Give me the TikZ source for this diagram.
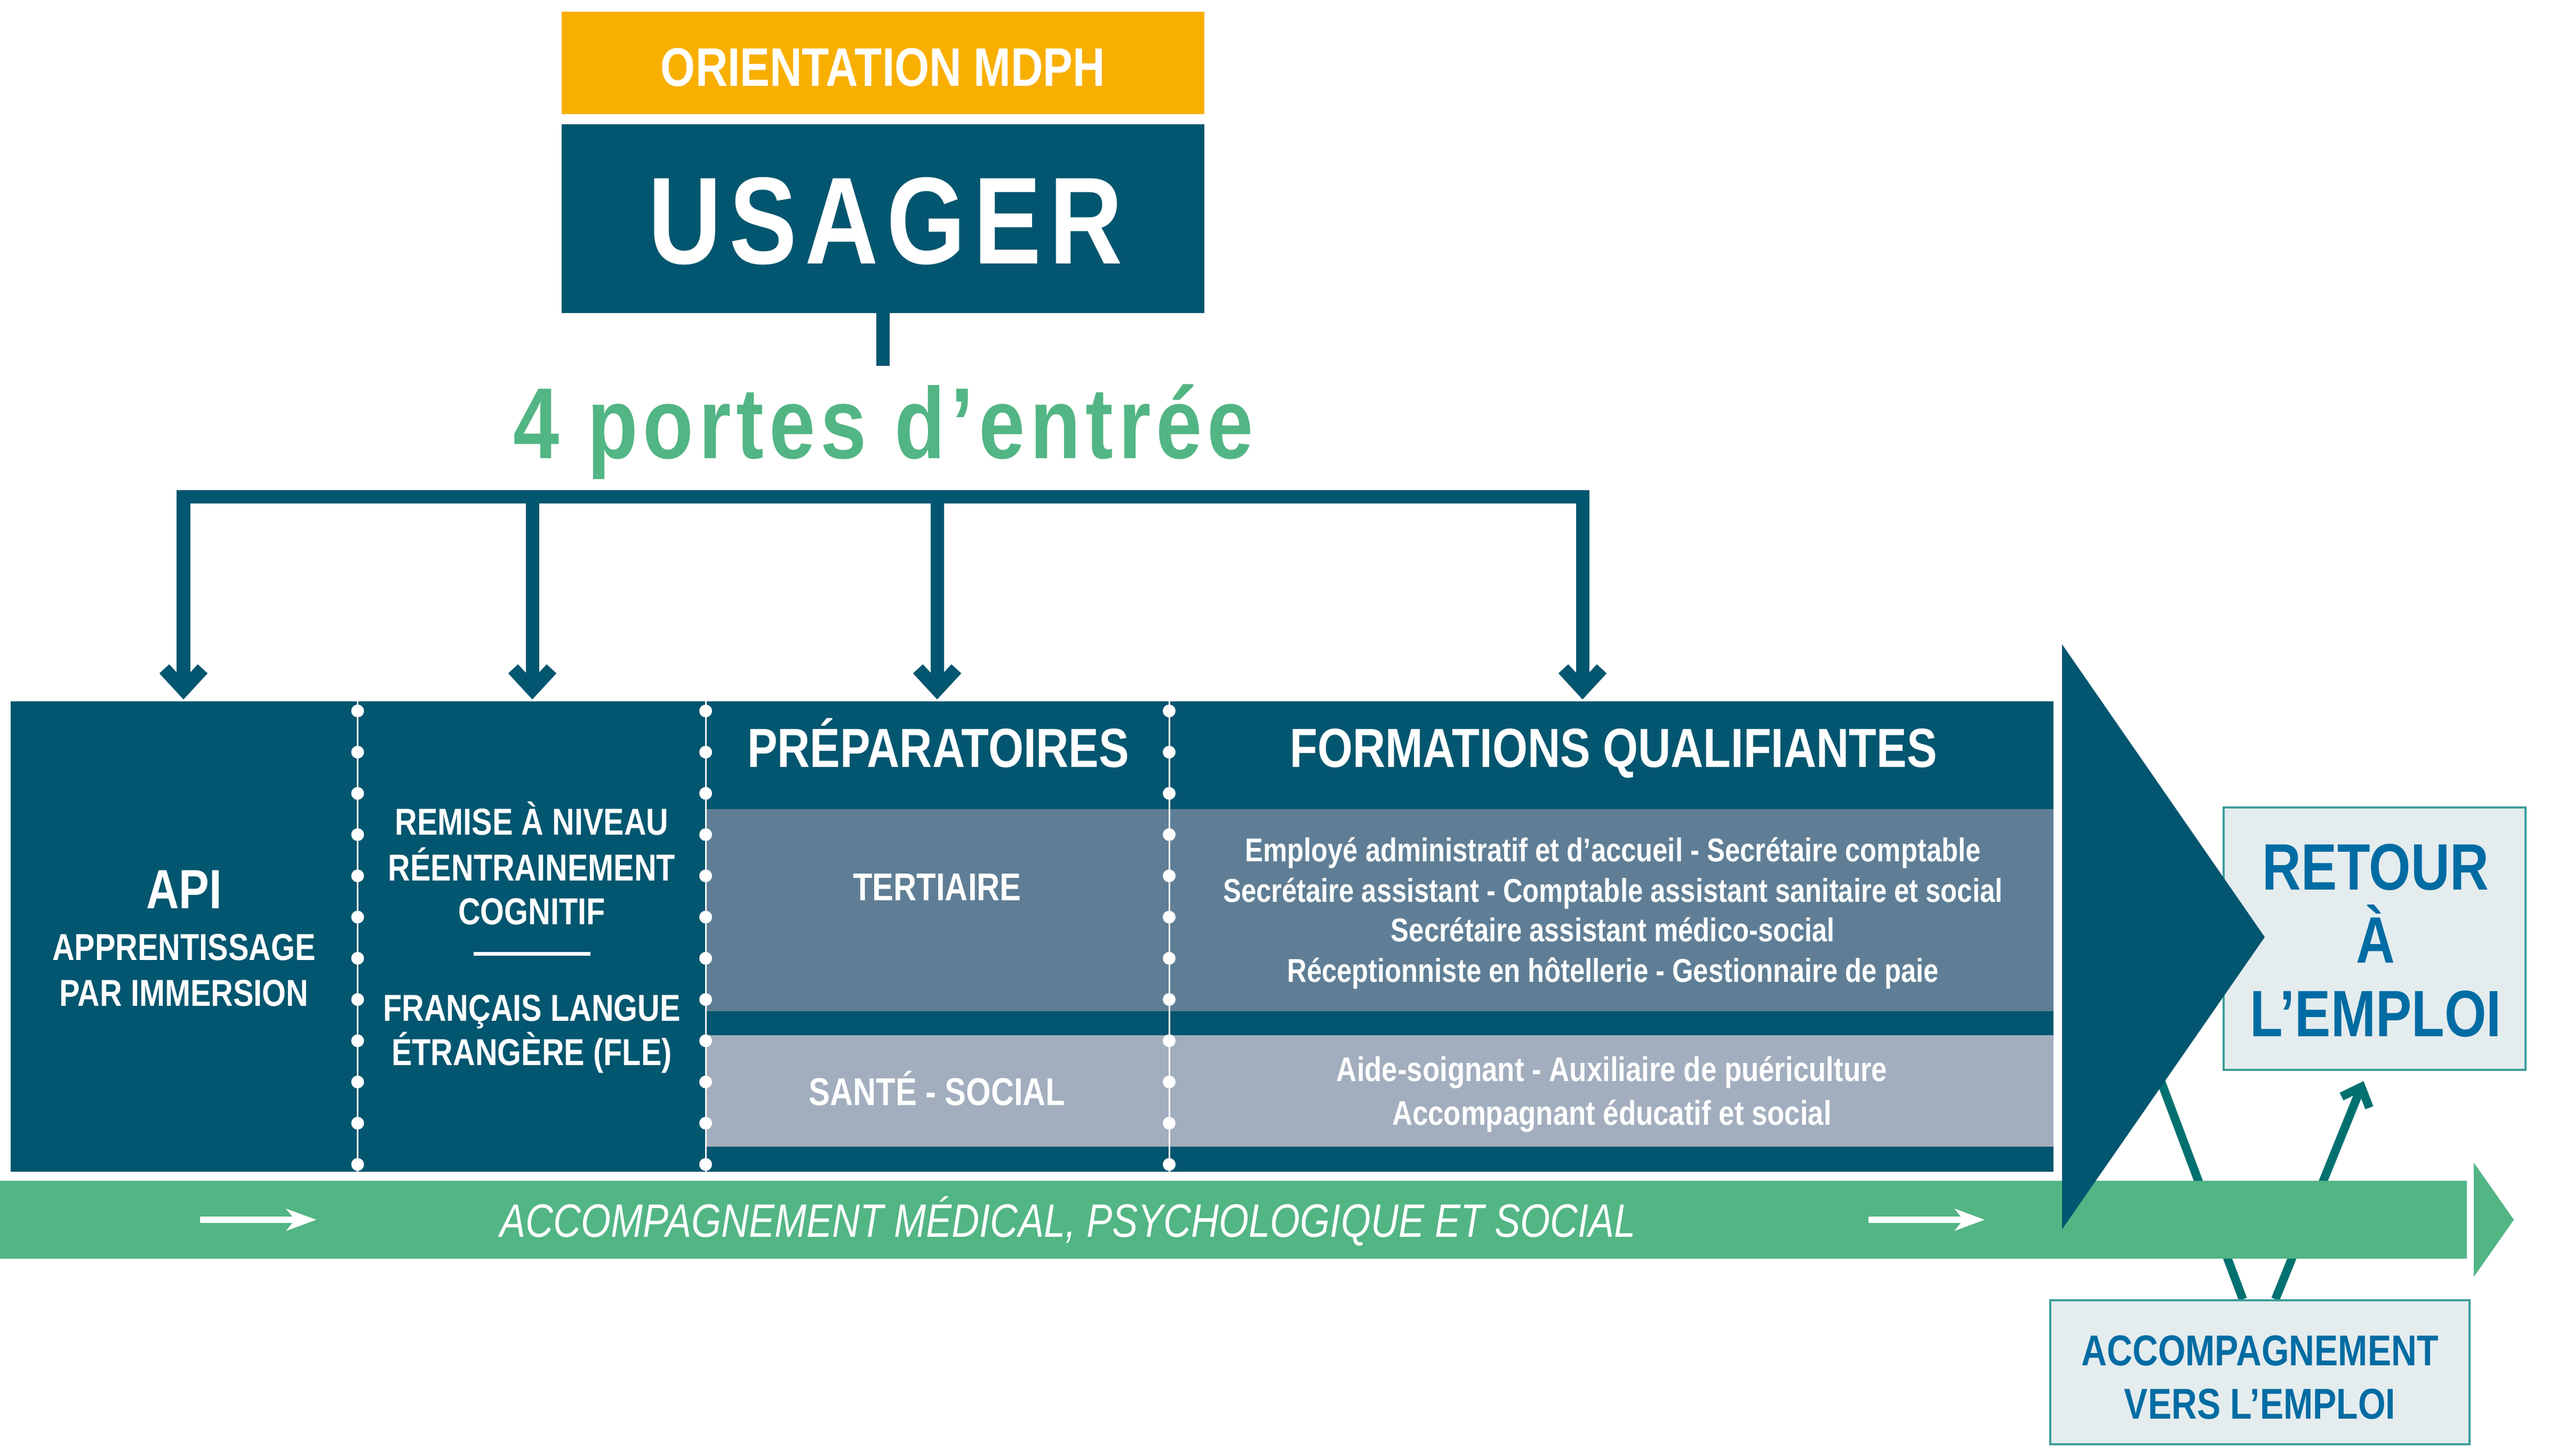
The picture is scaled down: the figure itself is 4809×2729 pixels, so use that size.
\documentclass[tikz,border=0pt]{standalone}
\usepackage{fontspec}
\setmainfont{Liberation Sans}[FakeStretch=0.82]
\usetikzlibrary{calc}
\definecolor{dk}{HTML}{03566F}
\definecolor{org}{HTML}{F8AF00}
\definecolor{grn}{HTML}{52B584}
\definecolor{ter}{HTML}{5F7E95}
\definecolor{san}{HTML}{A2AEBE}
\definecolor{boxf}{HTML}{E4ECEE}
\definecolor{bord}{HTML}{3D9D9B}
\definecolor{tl}{HTML}{00716F}
\definecolor{bluet}{HTML}{006CA3}
\newcommand\fsz[1]{\fontsize{#1}{#1}\selectfont}
\begin{document}
\begin{tikzpicture}[x=0.01cm,y=-0.01cm,
  t/.style={anchor=base, inner sep=0pt, outer sep=0pt, text=white},
  bt/.style={anchor=base, inner sep=0pt, outer sep=0pt, text=bluet, font=\bfseries\fsz{35pt}},
  ct/.style={anchor=base, inner sep=0pt, outer sep=0pt, text=bluet, font=\bfseries\fsz{23pt}},
  colt/.style={t, font=\bfseries\fsz{20pt}},
  frt/.style={t, font=\bfseries\fsz{17.6pt}},
  srt/.style={t, font=\bfseries\fsz{18.3pt}},
  hdt/.style={t, font=\bfseries\fsz{29.4pt}},
  pant/.style={t, font=\bfseries\fsz{20.7pt}},
  box/.style={inner sep=0pt, outer sep=0pt},
  col/.style={box, fill=dk, minimum height=8.82cm},
  lbox/.style={box, fill=boxf, draw=bord, line width=0.04cm},
  barline/.style={draw=dk, line width=0.25cm, line join=miter},
  tealline/.style={draw=tl, line width=0.16cm, line join=miter},
  divline/.style={draw=white, line width=0.03cm},
]
\useasboundingbox (0,0) rectangle (4809,2729);
\fill[white] (0,0) rectangle (4809,2729);

% ---- top boxes
\node[box, fill=org, minimum width=12.05cm, minimum height=1.92cm] (orient) at (1655.5,118) {};
\node[t, font=\bfseries\fsz{29pt}] (orientT) at (1655.5,161) {ORIENTATION MDPH};
\node[box, fill=dk, minimum width=12.05cm, minimum height=3.54cm] (usager) at (1655.5,410) {};
\node[t, font=\bfseries\fsz{66pt}\addfontfeatures{LetterSpace=6.5}] (usagerT) at (1660,494) {USAGER};
\coordinate (stemE) at (1655.5,686);
\draw[dk, line width=0.25cm] (usager.south) -- (stemE);
\node[t, text=grn, font=\bfseries\fsz{53.8pt}\addfontfeatures{LetterSpace=5.2}] (portes) at (1656,859) {4 portes d’entrée};

% ---- columns
\node[col, minimum width=6.505cm] (col1) at (345.25,1756) {};
\node[col, minimum width=6.525cm] (col2) at (996.75,1756) {};
\node[col, minimum width=8.69cm] (col3) at (1757.5,1756) {};
\node[col, minimum width=16.57cm] (col4) at (3020.5,1756) {};
\node[box, fill=ter, minimum width=25.25cm, minimum height=3.79cm] (tert) at (2586.5,1706.5) {};
\node[box, fill=san, minimum width=25.25cm, minimum height=2.09cm] (sante) at (2586.5,2045.5) {};

% ---- dotted dividers
\foreach \dx in {670.5,1323,2192} {
  \draw[divline] (\dx,1315) -- (\dx,2197);
  \foreach \k in {0,...,11} { \fill[white] (\dx,{1333+77.3*\k}) circle[radius=0.12cm]; }
}

% ---- entry arrows
\coordinate (c1) at (344,931.5);
\coordinate (c2) at (998,931.5);
\coordinate (c3) at (1757,931.5);
\coordinate (c4) at (2967,931.5);
\coordinate (t1) at (344,1293);
\coordinate (t2) at (998,1293);
\coordinate (t3) at (1757,1293);
\coordinate (t4) at (2967,1293);
\draw[barline] (t1) -- (c1) -- (c4) -- (t4);
\draw[barline] (c2) -- (t2);
\draw[barline] (c3) -- (t3);
\foreach \tt in {t1,t2,t3,t4} {
  \draw[barline] ($(\tt)+(-36,-39)$) -- (\tt) -- ($(\tt)+(36,-39)$);
}

% ---- column texts
\node[t, font=\bfseries\fsz{29.5pt}] (api) at (345,1703) {API};
\node[colt] (app1) at (345,1800) {APPRENTISSAGE};
\node[colt] (app2) at (345,1886) {PAR IMMERSION};
\node[colt] (rem1) at (997,1565) {REMISE À NIVEAU};
\node[colt] (rem2) at (997,1651) {RÉENTRAINEMENT};
\node[colt] (rem3) at (997,1733) {COGNITIF};
\coordinate (sepL) at (888,1788);
\coordinate (sepR) at (1107,1788);
\draw[white, line width=0.07cm] (sepL) -- (sepR);
\node[colt] (fle1) at (997,1914) {FRANÇAIS LANGUE};
\node[colt] (fle2) at (997,1997) {ÉTRANGÈRE (FLE)};
\node[hdt] (prep) at (1759,1438) {PRÉPARATOIRES};
\node[hdt] (form) at (3025,1438) {FORMATIONS QUALIFIANTES};
\node[pant] (terT) at (1757,1688) {TERTIAIRE};
\node[pant] (sanT) at (1757,2072) {SANTÉ - SOCIAL};
\node[frt] (f1) at (3024,1615) {Employé administratif et d’accueil - Secrétaire comptable};
\node[frt] (f2) at (3024,1691) {Secrétaire assistant - Comptable assistant sanitaire et social};
\node[frt] (f3) at (3024,1765) {Secrétaire assistant médico-social};
\node[frt] (f4) at (3024,1841) {Réceptionniste en hôtellerie - Gestionnaire de paie};
\node[srt] (s1) at (3022,2027) {Aide-soignant - Auxiliaire de puériculture};
\node[srt] (s2) at (3022,2109) {Accompagnant éducatif et social};

% ---- teal connectors (under green band and triangle)
\coordinate (tri1) at (4040,1997);
\coordinate (acc1) at (4205,2436);
\coordinate (acc2) at (4266,2436);
\coordinate (rettip) at (4427,2038);
\draw[tealline] (tri1) -- (acc1);
\draw[tealline] (acc2) -- (rettip);
\draw[tealline] (4390,2056) -- (rettip) -- (4442,2077);

% ---- green band
\fill[grn] (0,2214) rectangle (4625,2360);
\fill[grn] (4638,2180) -- (4713,2287) -- (4638,2394) -- cycle;
\fill[white] (375,2281) rectangle (553,2293);
\fill[white] (536,2266) -- (593,2287) -- (536,2308) -- (553,2287) -- cycle;
\fill[white] (3503,2281) rectangle (3681,2293);
\fill[white] (3664,2266) -- (3721,2287) -- (3664,2308) -- (3681,2287) -- cycle;
\node[t, font=\itshape\fsz{25pt}] (accmed) at (2002,2319) {ACCOMPAGNEMENT MÉDICAL, PSYCHOLOGIQUE ET SOCIAL};

% ---- retour box and triangle
\node[lbox, minimum width=5.66cm, minimum height=4.92cm] (ret) at (4452,1760) {};
\node[bt] (r1) at (4454,1668) {RETOUR};
\node[bt] (r2) at (4454,1805) {À};
\node[bt] (r3) at (4454,1943) {L’EMPLOI};
\fill[dk] (3866,1208) -- (4246,1757) -- (3866,2305) -- cycle;

% ---- accompagnement box
\node[lbox, minimum width=7.86cm, minimum height=2.70cm] (acc) at (4237,2573) {};
\node[ct] (a1) at (4237,2560) {ACCOMPAGNEMENT};
\node[ct] (a2) at (4237,2660) {VERS L’EMPLOI};
\end{tikzpicture}
\end{document}
